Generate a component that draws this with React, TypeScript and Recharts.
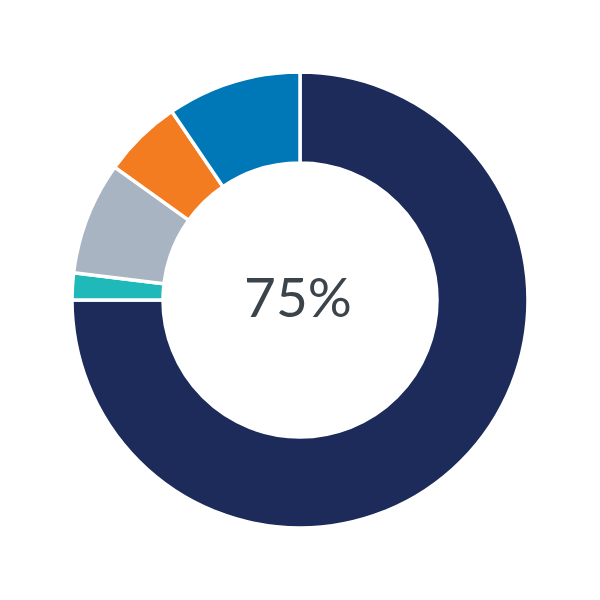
import React from 'react';
import { PieChart, Pie, Cell } from 'recharts';

const labels = ['Main', 'Teal', 'Gray', 'Orange', 'Blue'];
const values = [75, 1.9, 8, 5.6, 9.5];
const colors = ['#1c2b5a', '#1fb9b9', '#a9b4c2', '#f37b20', '#0077b6'];
const centerLabel = '75%';

const data = labels.map((name, i) => ({ name, value: values[i] }));

export default function App() {
  return (
    <div style={{ width: 584, height: 584, position: 'relative' }}>
      <PieChart width={584} height={584} margin={{ top: 0, right: 0, bottom: 0, left: 0 }}>
        <Pie
          data={data}
          dataKey="value"
          cx={292}
          cy={292}
          innerRadius={137}
          outerRadius={228}
          startAngle={90}
          endAngle={-270}
          stroke="#ffffff"
          strokeWidth={3.5}
          isAnimationActive={false}
        >
          {data.map((d, i) => (
            <Cell key={d.name} fill={colors[i]} />
          ))}
        </Pie>
        <text
          x={290}
          y={288}
          textAnchor="middle"
          dominantBaseline="central"
          fontFamily="Lato, sans-serif"
          fontSize={55}
          fill="#3b434b"
        >
          {centerLabel}
        </text>
      </PieChart>
    </div>
  );
}
